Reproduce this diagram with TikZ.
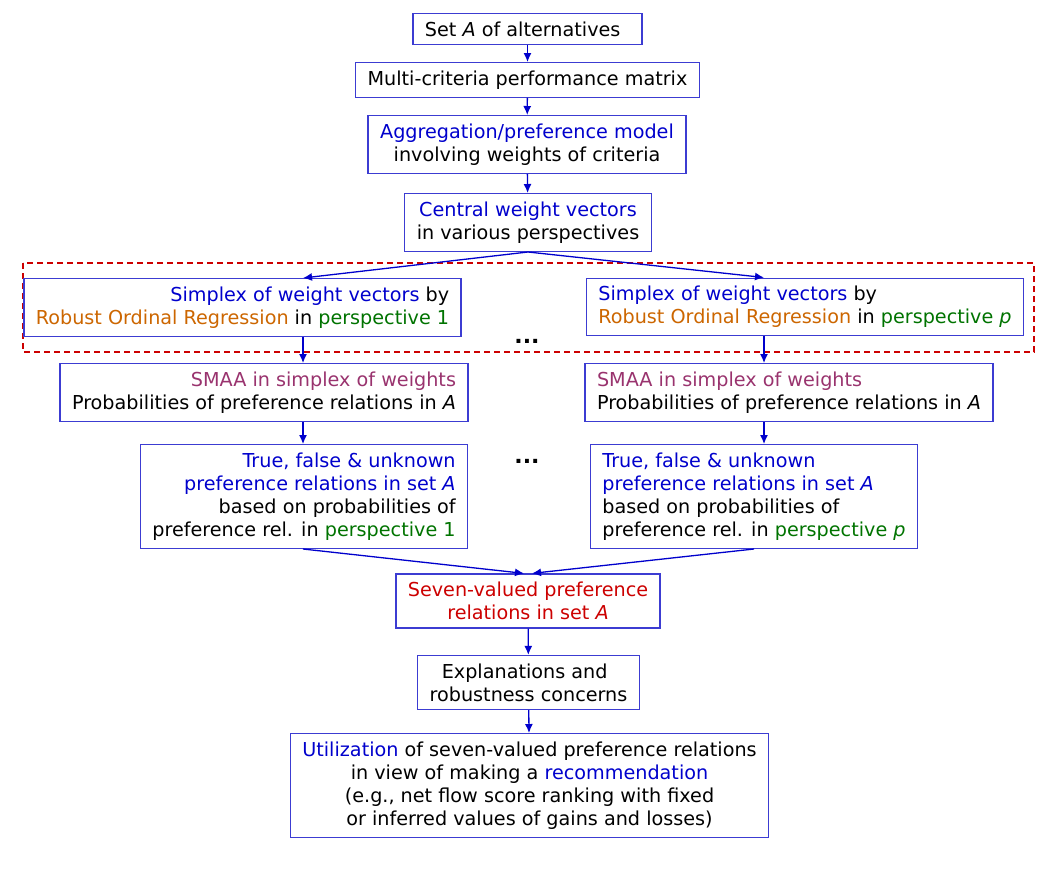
\documentclass[tikz,border=0pt]{standalone}
\usepackage{fontspec}
\setmainfont{DejaVu Sans}
\usetikzlibrary{arrows.meta}
\definecolor{boxblue}{RGB}{60,60,210}
\definecolor{arrblue}{RGB}{0,0,204}
\definecolor{tblue}{RGB}{0,0,204}
\definecolor{torange}{RGB}{204,102,0}
\definecolor{tgreen}{RGB}{0,115,0}
\definecolor{tpurple}{RGB}{153,51,110}
\definecolor{tred}{RGB}{204,0,0}

\begin{document}
\begin{tikzpicture}[x=1pt,y=-1pt]
\tikzstyle{every node}+=[font=\fontsize{19.2}{23}\selectfont]
\tikzstyle{stepbox}=[draw=boxblue,line width=1.4pt,inner xsep=12pt,inner ysep=8pt,align=center]
\tikzstyle{flow}=[arrblue,line width=1.3pt,-{Latex[length=9pt,width=8pt]}]
\tikzstyle{dots}=[font=\fontsize{22}{23}\selectfont\bfseries]
\useasboundingbox (0,0) rectangle (1054,891);
% column lines for the arrows
\coordinate (colL) at (303,0);
\coordinate (colR) at (764,0);
% top part
\node [stepbox] (seta) at (527.5,29) {Set \textit{A} of alternatives\hspace*{0.5em}};
\node [stepbox] (matrix) at (527.5,80) {Multi-criteria performance matrix};
\node [stepbox] (model) at (527,144.5) {\textcolor{tblue}{Aggregation/preference model}\\involving weights of criteria};
\node [stepbox] (central) at (528,222.5) {\textcolor{tblue}{Central weight vectors}\\in various perspectives};
% perspectives
\draw [tred,dash pattern=on 6pt off 4pt,line width=1.3pt] (23,263) rectangle (1034,352);
\node [stepbox,align=right] (simp1) at (242.5,307.5) {\textcolor{tblue}{Simplex of weight vectors} by\\\textcolor{torange}{Robust Ordinal Regression} in \textcolor{tgreen}{perspective 1}};
\node [stepbox,align=left] (simpp) at (805,307) {\textcolor{tblue}{Simplex of weight vectors} by\\\textcolor{torange}{Robust Ordinal Regression} in \textcolor{tgreen}{perspective \textit{p}}};
\node [dots] (dots1) at (527,341) {...};
\node [stepbox,align=right] (smaa1) at (264,392.5) {\textcolor{tpurple}{SMAA in simplex of weights}\\Probabilities of preference relations in \textit{A}};
\node [stepbox,align=left] (smaap) at (789,392.5) {\textcolor{tpurple}{SMAA in simplex of weights}\\Probabilities of preference relations in \textit{A}};
\node [stepbox,align=right] (true1) at (304,496.5) {\textcolor{tblue}{True, false \& unknown}\\\textcolor{tblue}{preference relations in set \textit{A}}\\based on probabilities of\hspace*{0.4em}\\preference rel. in \textcolor{tgreen}{perspective 1}};
\node [stepbox,align=left] (truep) at (754,496.5) {\textcolor{tblue}{True, false \& unknown}\\\textcolor{tblue}{preference relations in set \textit{A}}\\based on probabilities of\\preference rel. in \textcolor{tgreen}{perspective \textit{p}}};
\node [dots] (dots2) at (527,461) {...};
% bottom part
\node [stepbox] (seven) at (528,601) {\textcolor{tred}{Seven-valued preference}\\\textcolor{tred}{relations in set \textit{A}}};
\node [stepbox] (explain) at (528.5,682.5) {Explanations and\hspace*{0.4em}\\robustness concerns};
\node [stepbox] (util) at (529.5,785.5) {\textcolor{tblue}{Utilization} of seven-valued preference relations\\in view of making a \textcolor{tblue}{recommendation}\\(e.g., net flow score ranking with fixed\\or inferred values of gains and losses)};
% arrows
\draw [flow] (seta) -- (matrix);
\draw [flow] (matrix) -- (model);
\draw [flow] (model) -- (central);
\draw [flow] (central.south) -- (simp1.north -| colL);
\draw [flow] (central.south) -- (simpp.north -| colR);
\draw [flow] (simp1.south -| colL) -- (smaa1.north -| colL);
\draw [flow] (simpp.south -| colR) -- (smaap.north -| colR);
\draw [flow] (smaa1.south -| colL) -- (true1.north -| colL);
\draw [flow] (smaap.south -| colR) -- (truep.north -| colR);
\draw [flow] (true1.south -| colL) -- ([xshift=-4pt]seven.north);
\draw [flow] (truep.south) -- ([xshift=4pt]seven.north);
\draw [flow] (seven) -- (explain);
\draw [flow] (explain) -- (util);
\end{tikzpicture}
\end{document}
